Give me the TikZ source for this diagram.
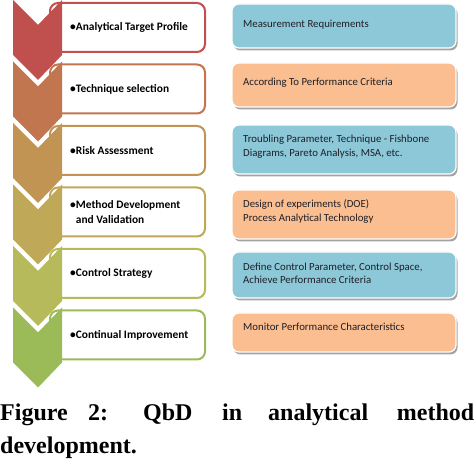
\documentclass[tikz,border=0pt]{standalone}
\usepackage{fontspec}
\setmainfont{Liberation Serif}
\newfontfamily\calibrifont{Carlito}
\usetikzlibrary{shadows}
\definecolor{cA}{RGB}{192,80,77}
\definecolor{cB}{RGB}{194,118,80}
\definecolor{cC}{RGB}{194,148,84}
\definecolor{cD}{RGB}{191,168,87}
\definecolor{cE}{RGB}{182,186,90}
\definecolor{cF}{RGB}{155,187,89}
\definecolor{rblue}{RGB}{141,200,217}
\definecolor{rorange}{RGB}{250,190,145}
\definecolor{rtextcol}{RGB}{30,30,38}
\tikzset{
  lbox/.style={draw=#1, line width=2pt, fill=white, rounded corners=8pt},
  ltext/.style={anchor=west, inner sep=0pt, align=left, font=\calibrifont\bfseries\fontsize{11.4}{15}\selectfont},
  rbox/.style={fill=#1, draw=white, line width=1.2pt, rounded corners=7pt,
    drop shadow={shadow xshift=1.5pt, shadow yshift=-2.5pt, fill=black!45, opacity=0.8}},
  rtext/.style={anchor=west, inner sep=0pt, align=left, text=rtextcol, font=\calibrifont\fontsize{10.8}{13.5}\selectfont},
  captext/.style={anchor=base west, inner sep=0pt, font=\bfseries\fontsize{24}{28}\selectfont},
}
\newcommand{\chevronshape}[2]{%
  \fill[#1] (13,#2) -- (38,#2+25) -- (62,#2) -- (62,#2+55) -- (38,#2+80) -- (13,#2+55) -- cycle;}
\newcommand{\leftbox}[3]{%
  \draw[lbox=#1] (50,#2+3) rectangle (205,#2+52) coordinate (#3);}
\begin{document}
\begin{tikzpicture}[x=1pt,y=-1pt]
\useasboundingbox (0,0) rectangle (474,462);
% left boxes
\leftbox{cA}{0}{lb1}
\leftbox{cB}{61.5}{lb2}
\leftbox{cC}{123}{lb3}
\leftbox{cD}{184.5}{lb4}
\leftbox{cE}{246}{lb5}
\leftbox{cF}{307.5}{lb6}
% chevrons
\chevronshape{cA}{0}
\chevronshape{cB}{61.5}
\chevronshape{cC}{123}
\chevronshape{cD}{184.5}
\chevronshape{cE}{246}
\chevronshape{cF}{307.5}
% left texts
\node[ltext] (l1) at (70,27.5) {•Analytical Target Profile};
\node[ltext] (l2) at (70,89) {•Technique selection};
\node[ltext] (l3) at (70,150.5) {•Risk Assessment};
\node[ltext] (l4) at (70,212) {•Method Development\\\phantom{•}and Validation};
\node[ltext] (l5) at (70,273.5) {•Control Strategy};
\node[ltext] (l6) at (70,335) {•Continual Improvement};
% right boxes
\path[rbox=rblue]   (232,4)   rectangle (456,48);
\path[rbox=rorange] (232,63)  rectangle (456,107);
\path[rbox=rblue]   (232,125) rectangle (456,174);
\path[rbox=rorange] (232,190) rectangle (456,239);
\path[rbox=rblue]   (232,252) rectangle (456,298);
\path[rbox=rorange] (232,313) rectangle (456,352);
% right texts
\node[rtext] (r1) at (243,25) {Measurement Requirements};
\node[rtext] (r2) at (243,82.5) {According To Performance Criteria};
\node[rtext] (r3) at (243,146.5) {Troubling Parameter, Technique - Fishbone\\Diagrams, Pareto Analysis, MSA, etc.};
\node[rtext] (r4) at (243,211.5) {Design of experiments (DOE)\\Process Analytical Technology};
\node[rtext] (r5) at (243,273.5) {Define Control Parameter, Control Space,\\Achieve Performance Criteria};
\node[rtext] (r6) at (243,327) {Monitor Performance Characteristics};
% caption
\node[captext] (cap1) at (0,420) {\makebox[474pt][l]{\rlap{Figure}\hspace{88pt}\rlap{2:}\hspace{55pt}\rlap{QbD}\hspace{79pt}\rlap{in}\hspace{46pt}analytical\hfill method}};
\node[captext] (cap2) at (0,453) {development.};
\end{tikzpicture}
\end{document}
